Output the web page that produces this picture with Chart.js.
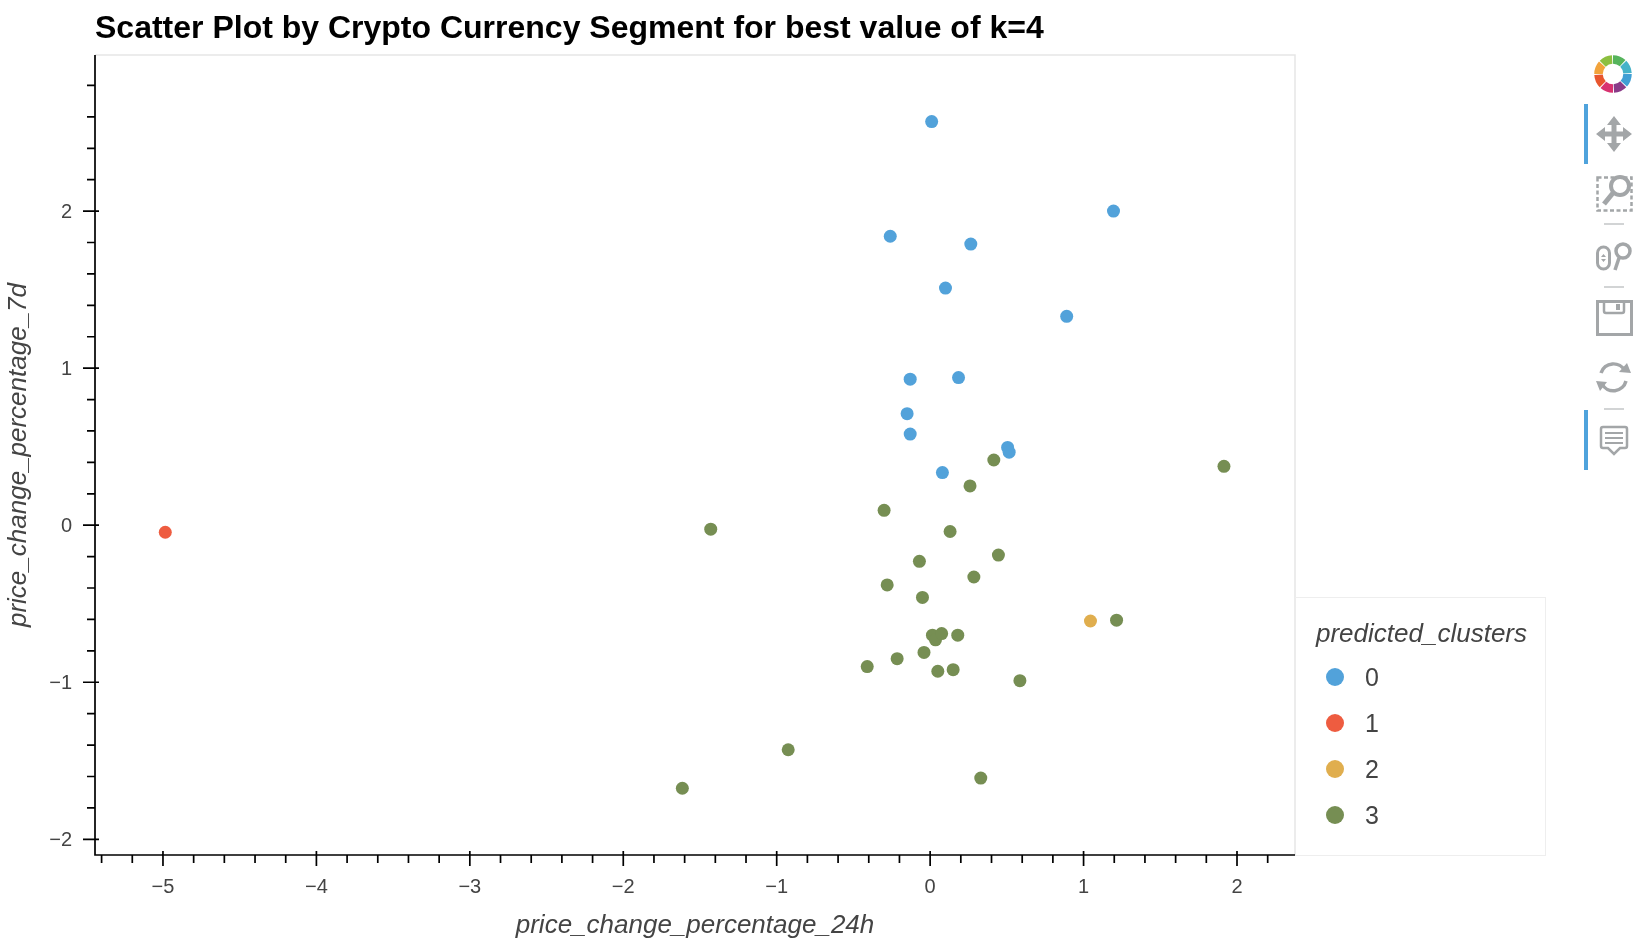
<!DOCTYPE html>
<html>
<head>
<meta charset="utf-8">
<title>Scatter Plot by Crypto Currency Segment</title>
<script src="https://cdn.jsdelivr.net/npm/chart.js@4"></script>
<style>
  html, body { margin: 0; padding: 0; background: #fff; }
  .wrap { position: relative; width: 1640px; height: 940px; overflow: hidden; font-family: "Liberation Sans", Arial, sans-serif; }
  canvas { position: absolute; left: 0; top: 0; }
  .legend { position: absolute; left: 1295px; top: 597px; width: 250px; height: 257px; border: 1px solid #eeeeee; border-left: 0; color: #444; }
  .legend__title { position: absolute; left: 21px; top: 20px; font-size: 26px; line-height: 30px; font-style: italic; white-space: nowrap; }
  .legend__item { position: absolute; left: 31px; height: 30px; line-height: 30px; font-size: 25px; }
  .legend__dot { position: absolute; left: 0; top: 6px; width: 18px; height: 18px; border-radius: 50%; }
  .legend__label { position: absolute; left: 39px; top: 0; }
  .toolbar { position: absolute; left: 1570px; top: 40px; }
</style>
</head>
<body>
<div class="wrap">
  <canvas id="chart" width="1640" height="940"></canvas>
  <div class="legend" id="legend"></div>
  <svg class="toolbar" width="70" height="450" viewBox="1570 40 70 450" fill="none" stroke="#a3a6a8" stroke-width="3">
    <defs><filter id="soft"><feGaussianBlur stdDeviation="0.7"/></filter></defs>
    <g transform="translate(1613 74)" stroke-width="8.500" filter="url(#soft)">
      <circle r="14.500" stroke="#57b45c" stroke-dasharray="10.500 80.600" transform="rotate(-90)"/>
      <circle r="14.500" stroke="#45b3c9" stroke-dasharray="10.500 80.600" transform="rotate(-45)"/>
      <circle r="14.500" stroke="#3f9fd4" stroke-dasharray="10.500 80.600" transform="rotate(0)"/>
      <circle r="14.500" stroke="#8a3a88" stroke-dasharray="10.500 80.600" transform="rotate(45)"/>
      <circle r="14.500" stroke="#d8336f" stroke-dasharray="10.500 80.600" transform="rotate(90)"/>
      <circle r="14.500" stroke="#e8562f" stroke-dasharray="10.500 80.600" transform="rotate(135)"/>
      <circle r="14.500" stroke="#f2a33a" stroke-dasharray="10.500 80.600" transform="rotate(180)"/>
      <circle r="14.500" stroke="#8cbf3f" stroke-dasharray="10.500 80.600" transform="rotate(225)"/>
    </g>
    <rect x="1584" y="104" width="4" height="60" fill="#4fa3dc" stroke="none"/>
    <rect x="1584" y="410" width="4" height="60" fill="#4fa3dc" stroke="none"/>
    <g fill="#a3a6a8" stroke="none" transform="translate(1 0)">
      <path d="M1613 116 L1620 125 L1615.500 125 L1615.500 131.500 L1622 131.500 L1622 127 L1631 134 L1622 141 L1622 136.500 L1615.500 136.500 L1615.500 143 L1620 143 L1613 152 L1606 143 L1610.500 143 L1610.500 136.500 L1604 136.500 L1604 141 L1595 134 L1604 127 L1604 131.500 L1610.500 131.500 L1610.500 125 L1606 125 Z"/>
    </g>
    <rect x="1597.500" y="177.500" width="34" height="33" stroke-dasharray="4 2.500" stroke-width="2.500"/>
    <circle cx="1620" cy="186" r="9" fill="#fff" stroke-width="4"/>
    <path d="M1613 193 L1604 204" stroke-width="5"/>
    <path d="M1604 224 H1624 M1604 287 H1624 M1604 409 H1624" stroke="#c4c6c8" stroke-width="1.500"/>
    <rect x="1597.500" y="247" width="12" height="22" rx="6" stroke-width="3"/>
    <circle cx="1623" cy="251" r="7" stroke-width="3.500"/>
    <path d="M1619 258 L1615 270" stroke-width="3.500"/>
    <path d="M1603.500 254 L1601 257 H1606 Z M1603.500 262 L1601 259 H1606 Z" fill="#a3a6a8" stroke="none"/>
    <rect x="1597.500" y="301.500" width="34" height="33"/>
    <path d="M1604 302 V311 Q1604 313 1606 313 H1622 Q1624 313 1624 311 V302" stroke-width="2.500"/>
    <rect x="1616" y="304" width="4" height="6" fill="#a3a6a8" stroke="none"/>
    <path d="M1601 373 A13 13 0 0 1 1625 371" stroke-width="3.500"/>
    <path d="M1626 381 A13 13 0 0 1 1602 384" stroke-width="3.500"/>
    <path d="M1619 372 L1631 373 L1627 363 Z M1607 382 L1596 381 L1600 391 Z" fill="#a3a6a8" stroke="none"/>
    <path d="M1603 427 H1625 Q1627 427 1627 429 V446 Q1627 448 1625 448 H1620 L1614 454 L1608 448 H1603 Q1601 448 1601 446 V429 Q1601 427 1603 427 Z" stroke-width="2.500"/>
    <path d="M1605 433 H1623 M1605 438 H1623 M1605 443 H1623" stroke-width="2"/>
  </svg>
</div>
<script>
const clusterNames = ['0', '1', '2', '3'];
const clusterColors = ['#52a2da', '#ee5c40', '#e0ae4e', '#768e53'];

const cluster0X = [0.01, 1.195, -0.26, 0.265, 0.10, 0.89, -0.13, 0.185, -0.15, -0.13, 0.505, 0.515, 0.08];
const cluster0Y = [2.57, 2.0, 1.84, 1.79, 1.51, 1.33, 0.93, 0.94, 0.71, 0.58, 0.495, 0.465, 0.335];

const cluster1X = [-4.985];
const cluster1Y = [-0.045];

const cluster2X = [1.045];
const cluster2Y = [-0.61];

const cluster3X = [1.915, 0.415, 0.26, -0.30, -1.43, 0.13, 0.445, -0.07, 0.285, -0.28, -0.05, 1.215, 0.015, 0.035, 0.075, 0.18, -0.04, -0.215, -0.41, 0.05, 0.15, 0.585, -0.925, -1.615, 0.33];
const cluster3Y = [0.375, 0.415, 0.25, 0.095, -0.025, -0.04, -0.19, -0.23, -0.33, -0.38, -0.46, -0.605, -0.70, -0.73, -0.69, -0.70, -0.81, -0.85, -0.90, -0.93, -0.92, -0.99, -1.43, -1.675, -1.61];

const xMajorTicks = [-5, -4, -3, -2, -1, 0, 1, 2];
const yMajorTicks = [-2, -1, 0, 1, 2];
const tickStep = 0.2;

const clustersX = [cluster0X, cluster1X, cluster2X, cluster3X];
const clustersY = [cluster0Y, cluster1Y, cluster2Y, cluster3Y];

const textColor = '#444444';
const fontFamily = "'Liberation Sans', Arial, sans-serif";

function allTicks(from, to, majors) {
  const ticks = [];
  const count = Math.round((to - from) / tickStep);
  for (let i = 0; i <= count; i++) {
    const value = Number((from + i * tickStep).toFixed(1));
    ticks.push({ value: value, major: majors.includes(value) });
  }
  return ticks;
}

function tickLabel(value) {
  if (!Number.isInteger(value)) return '';
  return value < 0 ? '\u2212' + Math.abs(value) : String(value);
}

// axis lines, plot frame and the long/short ticks (chart.js has one tick length only)
const axisMarks = {
  id: 'axisMarks',
  beforeDatasetsDraw(chart) {
    const { ctx, chartArea, scales } = chart;
    const { left, right, top, bottom } = chartArea;

    ctx.save();
    ctx.strokeStyle = '#e6e6e6';
    ctx.lineWidth = 1.5;
    ctx.beginPath();
    ctx.moveTo(left, top);
    ctx.lineTo(right, top);
    ctx.lineTo(right, bottom);
    ctx.stroke();

    ctx.strokeStyle = '#000';
    ctx.lineWidth = 1.7;
    ctx.beginPath();
    ctx.moveTo(left, top);
    ctx.lineTo(left, bottom);
    ctx.lineTo(right, bottom);

    for (const tick of scales.x.ticks) {
      const px = scales.x.getPixelForValue(tick.value);
      ctx.moveTo(px, bottom - (tick.major ? 4 : 0));
      ctx.lineTo(px, bottom + (tick.major ? 11 : 8));
    }
    for (const tick of scales.y.ticks) {
      const py = scales.y.getPixelForValue(tick.value);
      ctx.moveTo(left + (tick.major ? 4 : 0), py);
      ctx.lineTo(left - (tick.major ? 12 : 8), py);
    }
    ctx.stroke();
    ctx.restore();
  },
};

const chartData = {
  datasets: clusterNames.map((name, i) => ({
    label: name,
    data: clustersX[i].map((x, j) => ({ x: x, y: clustersY[i][j] })),
    backgroundColor: clusterColors[i],
    borderWidth: 0,
    pointRadius: 6.5,
  })),
};

const chartOptions = {
  responsive: false,
  animation: false,
  layout: {
    padding: { right: 345 },
  },
  scales: {
    x: {
      type: 'linear',
      min: -5.443,
      max: 2.378,
      afterFit(scale) { scale.height = 85; },
      afterBuildTicks(scale) { scale.ticks = allTicks(-5.4, 2.2, xMajorTicks); },
      border: { display: false },
      grid: { display: false },
      ticks: {
        autoSkip: false,
        maxRotation: 0,
        padding: 12,
        color: textColor,
        font: { family: fontFamily, size: 20 },
        callback: tickLabel,
      },
      title: {
        display: true,
        text: 'price_change_percentage_24h',
        color: textColor,
        font: { family: fontFamily, size: 26, style: 'italic', weight: 'normal' },
        padding: { top: 0, bottom: -1 },
      },
    },
    y: {
      type: 'linear',
      min: -2.1,
      max: 2.994,
      afterFit(scale) { scale.width = 95; },
      afterBuildTicks(scale) { scale.ticks = allTicks(-2, 2.8, yMajorTicks); },
      border: { display: false },
      grid: { display: false },
      ticks: {
        autoSkip: false,
        padding: 15,
        labelOffset: 1,
        color: textColor,
        font: { family: fontFamily, size: 20 },
        callback: tickLabel,
      },
      title: {
        display: true,
        text: 'price_change_percentage_7d',
        color: textColor,
        font: { family: fontFamily, size: 26, style: 'italic', weight: 'normal' },
        padding: { top: 3, bottom: 0 },
      },
    },
  },
  plugins: {
    legend: { display: false },
    tooltip: { enabled: false },
    title: {
      display: true,
      text: 'Scatter Plot by Crypto Currency Segment for best value of k=4',
      align: 'start',
      fullSize: false,
      color: '#000',
      font: { family: fontFamily, size: 32, weight: 'bold', lineHeight: 1.2 },
      padding: { top: 9.5, bottom: 7.1 },
    },
  },
};

const chart = new Chart(document.getElementById('chart'), {
  type: 'scatter',
  data: chartData,
  options: chartOptions,
  plugins: [axisMarks],
});

// html legend built from the datasets
const legendBox = document.getElementById('legend');
const legendTitle = document.createElement('div');
legendTitle.className = 'legend__title';
legendTitle.textContent = 'predicted_clusters';
legendBox.appendChild(legendTitle);

chart.data.datasets.forEach((dataset, i) => {
  const item = document.createElement('div');
  item.className = 'legend__item';
  item.style.top = 64 + i * 46 + 'px';

  const dot = document.createElement('span');
  dot.className = 'legend__dot';
  dot.style.background = dataset.backgroundColor;

  const label = document.createElement('span');
  label.className = 'legend__label';
  label.textContent = dataset.label;

  item.appendChild(dot);
  item.appendChild(label);
  legendBox.appendChild(item);
});
</script>
</body>
</html>
